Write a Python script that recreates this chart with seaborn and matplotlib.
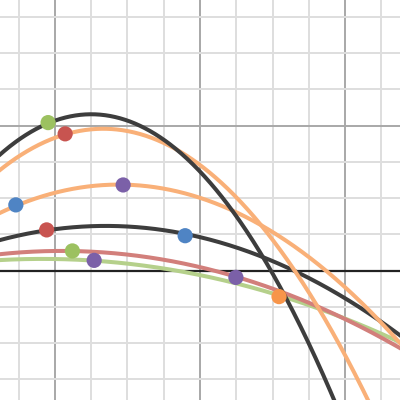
import numpy as np
import pandas as pd
import matplotlib
matplotlib.use("Agg")
import matplotlib.pyplot as plt
import seaborn as sns

# parabolas y = k - a * (x - h)^2
curve_names = ["green", "red", "black_low", "orange_mid", "orange_high", "black_high"]
curve_h = [-4.35, -3.81, -2.60, -2.24, -2.67, -3.00]
curve_k = [0.32, 0.54, 1.23, 2.37, 3.91, 4.31]
curve_a = [0.0236, 0.0308, 0.0458, 0.0727, 0.1403, 0.1756]
curve_colors = ["#b5d08b", "#d27f7b", "#3d3d3d", "#f9b078", "#f9b078", "#3d3d3d"]

# dots
point_names = ["green1", "red1", "purple1", "blue1", "red2",
               "green2", "purple2", "blue2", "purple3", "orange1"]
point_x = [-4.19, -3.72, -2.12, -5.08, -4.23, -3.52, -2.92, -0.41, 0.99, 2.18]
point_y = [4.08, 3.77, 2.36, 1.81, 1.12, 0.54, 0.28, 0.96, -0.19, -0.72]
point_colors = ["#9cc160", "#c85450", "#7b60a8", "#4f84c4", "#c85450",
                "#9cc160", "#7b60a8", "#4f84c4", "#7b60a8", "#f7954a"]

xs = np.linspace(-5.7, 5.7, 500)
frames = []
for name, h, k, a in zip(curve_names, curve_h, curve_k, curve_a):
    frames.append(pd.DataFrame({"x": xs, "y": k - a * (xs - h) ** 2, "curve": name}))
curves_df = pd.concat(frames, ignore_index=True)
points_df = pd.DataFrame({"x": point_x, "y": point_y, "point": point_names})

sns.set_style("white")
fig = plt.figure(figsize=(4, 4), dpi=100)
ax = fig.add_axes([0, 0, 1, 1])

sns.lineplot(data=curves_df, x="x", y="y", hue="curve", hue_order=curve_names,
             palette=curve_colors, estimator=None, lw=2.9, legend=False, ax=ax)
sns.scatterplot(data=points_df, x="x", y="y", hue="point", hue_order=point_names,
                palette=point_colors, s=120, linewidth=0, legend=False, ax=ax, zorder=5)

ax.set_xticks(np.arange(-4, 5, 4))
ax.set_yticks(np.arange(-4, 9, 4))
ax.set_xticks(np.arange(-5, 6, 1), minor=True)
ax.set_yticks(np.arange(-3, 8, 1), minor=True)
ax.set_xlim(-5.517, 5.517)
ax.set_ylim(-3.572, 7.462)
ax.grid(which="minor", color="#dedede", lw=1.4)
ax.grid(which="major", color="#a8a8a8", lw=1.4)
ax.tick_params(which="both", length=0, labelbottom=False, labelleft=False)
for sp in ax.spines.values():
    sp.set_visible(False)
ax.set_axisbelow(True)
ax.axhline(0, color="#222222", lw=1.6, zorder=1.5)

ax.set_xlabel("")
ax.set_ylabel("")
fig.savefig("out.png", dpi=100)
